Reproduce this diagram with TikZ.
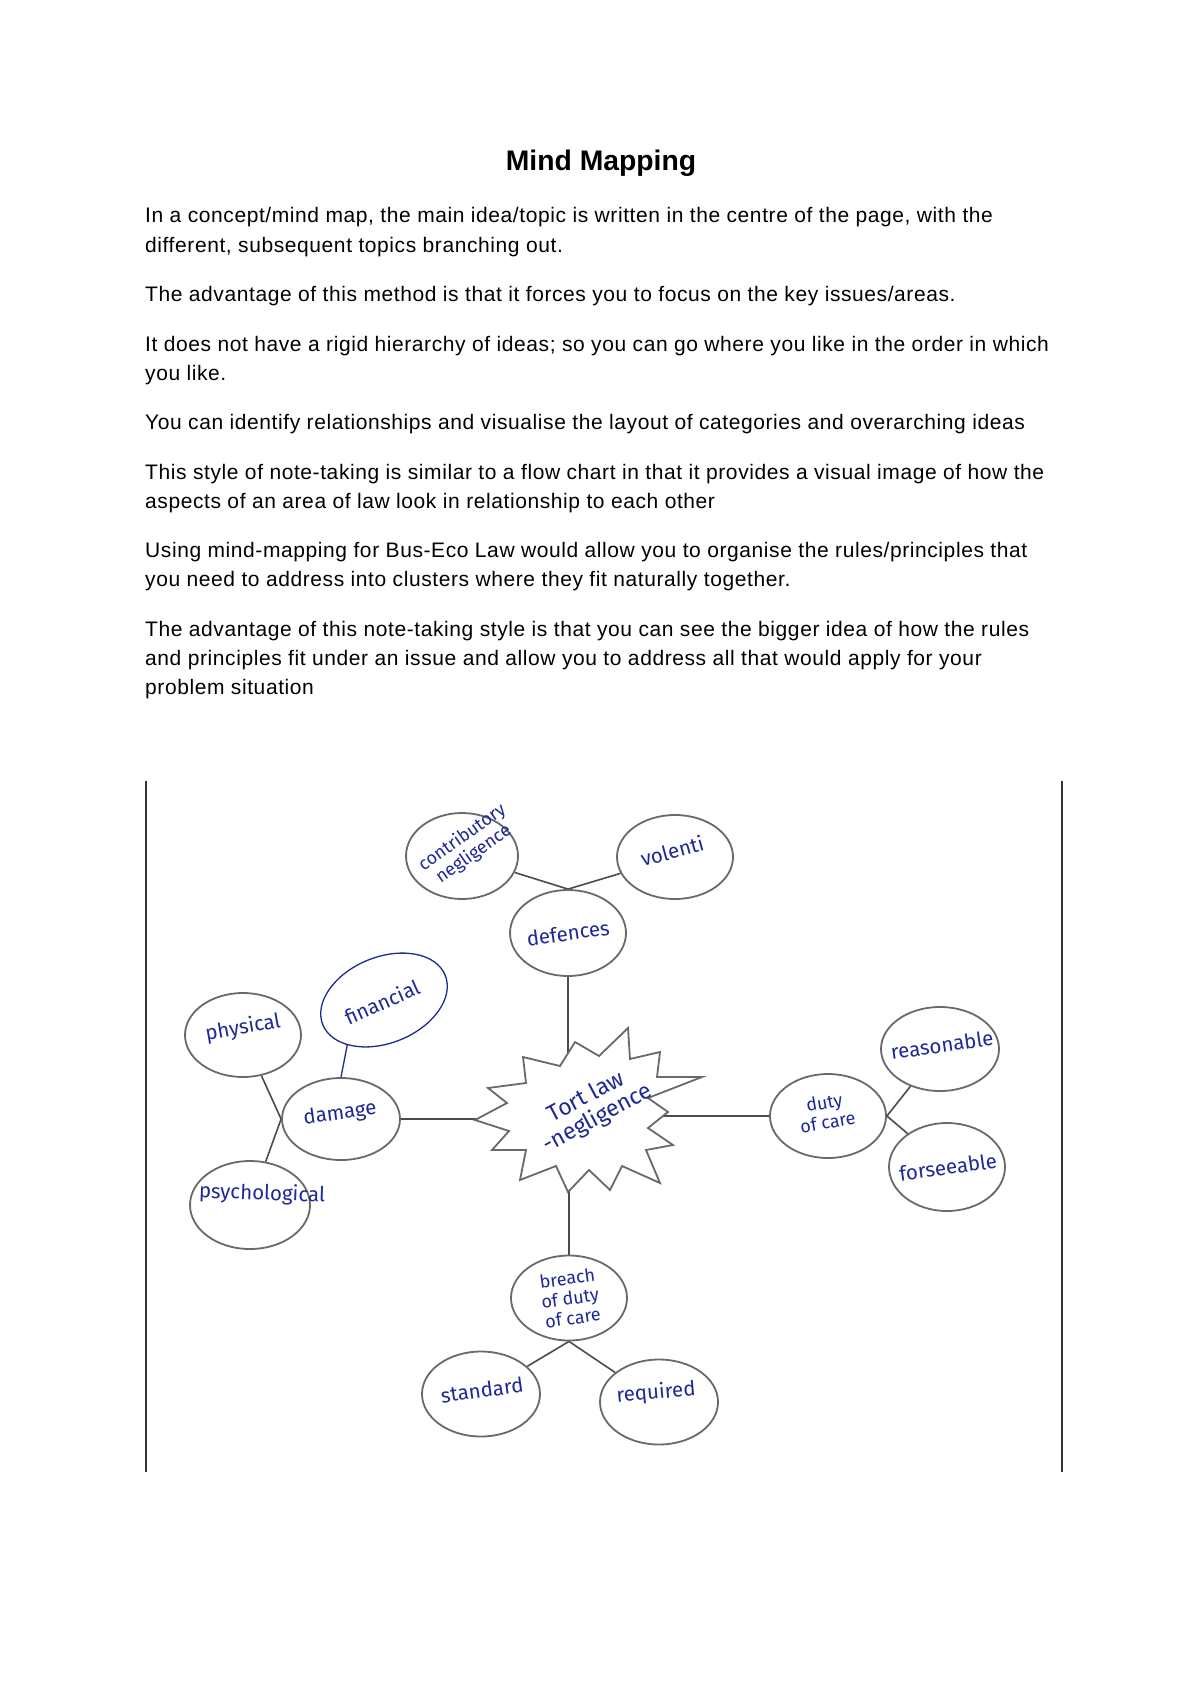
\documentclass[tikz,border=0pt]{standalone}
\usepackage{fontspec}
\setmainfont{Liberation Sans}
\newfontfamily\hand{Fira Sans}
\newfontfamily\bodyfont{Liberation Sans}[LetterSpace=2.8]
\usetikzlibrary{shapes.geometric,backgrounds,calc}
\definecolor{ink}{RGB}{30,40,150}
\definecolor{rim}{RGB}{105,105,105}
\definecolor{wire}{RGB}{75,75,75}
\begin{document}
\begin{tikzpicture}[x=1pt,y=-1pt,
  bubble/.style={ellipse, draw=rim, line width=1.8pt, fill=white, inner sep=0pt},
  hw/.style={font=\hand\fontsize{20.5}{21}\selectfont, text=ink, align=center, inner sep=0pt},
  hws/.style={font=\hand\fontsize{18}{20}\selectfont, text=ink, align=center, inner sep=0pt},
  link/.style={draw=wire, line width=1.6pt},
  para/.style={anchor=base west, inner sep=0pt, font=\bodyfont\fontsize{21}{24}\selectfont},
  frame/.style={draw=black!80, line width=1.7pt}]
\useasboundingbox (0,0) rectangle (1200,1698);

% title and text
\node[anchor=base, inner sep=0pt, font=\bfseries\fontsize{28.3}{30}\selectfont] (title) at (601,170) {Mind Mapping};
\node[para] (p1a) at (145,222) {In a concept/mind map, the main idea/topic is written in the centre of the page, with the};
\node[para] (p1b) at (145,252) {different, subsequent topics branching out.};
\node[para] (p2) at (145,301) {The advantage of this method is that it forces you to focus on the key issues/areas.};
\node[para] (p3a) at (145,351) {It does not have a rigid hierarchy of ideas; so you can go where you like in the order in which};
\node[para] (p3b) at (145,380) {you like.};
\node[para] (p4) at (145,429) {You can identify relationships and visualise the layout of categories and overarching ideas};
\node[para] (p5a) at (145,479) {This style of note-taking is similar to a flow chart in that it provides a visual image of how the};
\node[para] (p5b) at (145,508) {aspects of an area of law look in relationship to each other};
\node[para] (p6a) at (145,557) {Using mind-mapping for Bus-Eco Law would allow you to organise the rules/principles that};
\node[para] (p6b) at (145,586) {you need to address into clusters where they fit naturally together.};
\node[para] (p7a) at (145,636) {The advantage of this note-taking style is that you can see the bigger idea of how the rules};
\node[para] (p7b) at (145,665) {and principles fit under an issue and allow you to address all that would apply for your};
\node[para] (p7c) at (145,694) {problem situation};

% frame lines
\coordinate (fl1) at (146,781);
\coordinate (fl2) at (146,1472);
\coordinate (fr1) at (1062,781);
\coordinate (fr2) at (1062,1472);
\draw[frame] (fl1) -- (fl2);
\draw[frame] (fr1) -- (fr2);

% bubbles
\node[bubble, minimum width=112pt, minimum height=86pt] (contrib) at (462,856) {};
\node[bubble, minimum width=116pt, minimum height=84pt] (volenti) at (675,857) {};
\node[bubble, minimum width=116pt, minimum height=86pt] (defences) at (568,933) {};
\node[bubble, minimum width=116pt, minimum height=84pt] (physical) at (243,1035) {};
\node[bubble, minimum width=118pt, minimum height=82pt] (damage) at (341,1119) {};
\node[bubble, minimum width=120pt, minimum height=88pt] (psych) at (250,1205) {};
\node[bubble, minimum width=116pt, minimum height=84pt] (duty) at (828,1116) {};
\node[bubble, minimum width=118pt, minimum height=84pt] (reasonable) at (940,1049) {};
\node[bubble, minimum width=116pt, minimum height=88pt] (forseeable) at (947,1167) {};
\node[bubble, minimum width=116pt, minimum height=85pt] (breach) at (569,1298) {};
\node[bubble, minimum width=118pt, minimum height=85pt] (standard) at (481,1394) {};
\node[bubble, minimum width=118pt, minimum height=85pt] (required) at (659,1402) {};
\node[ellipse, draw=ink, line width=1.3pt, fill=white, inner sep=0pt, rotate=22,
      minimum width=132pt, minimum height=86pt] (financial) at (384,1000) {};

% star
\coordinate (star) at (590,1110);
\filldraw[fill=white, draw=rim, line width=1.8pt, line join=miter]
  (475,1120) -- (507,1103) -- (488,1088) -- (526,1083) -- (523,1057) -- (560,1066)
  -- (575,1042) -- (599,1056) -- (628,1028) -- (630,1059) -- (660,1052) -- (657,1077)
  -- (702,1077) -- (648,1098) -- (668,1112) -- (648,1128) -- (673,1145) -- (646,1150)
  -- (660,1183) -- (622,1166) -- (610,1190) -- (589,1170) -- (568,1192) -- (556,1166)
  -- (520,1180) -- (526,1150) -- (492,1150) -- (509,1131) -- cycle;

% connectors
\begin{pgfonlayer}{background}
\fill[white] (0,0) rectangle (1200,1698);
\draw[link] (contrib) -- (defences.north);
\draw[link] (volenti) -- (defences.north);
\draw[link] (defences.south) -- (defences.south |- star);
\draw[link] (physical) -- (damage.west);
\draw[link] (psych) -- (damage.west);
\draw[link] (damage.east) -- (damage.east -| star);
\draw[link] (duty.west) -- (duty.west -| star);
\draw[link] (reasonable) -- (duty.east);
\draw[link] (forseeable) -- (duty.east);
\draw[link] (breach.north) -- (breach.north |- star);
\draw[link] (standard) -- (breach.south);
\draw[link] (required) -- (breach.south);
\draw[draw=ink, line width=1.3pt] (damage.north) -- ($(financial.center)+(-28,0)$);
\end{pgfonlayer}

% handwritten labels
\node[hws, rotate=35] (t-contrib) at (468,846) {contributory\\negligence};
\node[hw, rotate=15] (t-volenti) at (672,851) {volenti};
\node[hw, rotate=8] (t-defences) at (568,933) {defences};
\node[hw, rotate=10] (t-physical) at (243,1028) {physical};
\node[hw, rotate=24] (t-financial) at (382,1002) {financial};
\node[hw, rotate=8] (t-damage) at (340,1114) {damage};
\node[hw, rotate=-2] (t-psych) at (262,1194) {psychological};
\node[hw, rotate=28, font=\hand\fontsize{23}{24}\selectfont] (t-star) at (592,1108) {Tort law\\-negligence};
\node[hws, rotate=10] (t-duty) at (826,1112) {duty\\of care};
\node[hw, rotate=8] (t-reasonable) at (942,1045) {reasonable};
\node[hw, rotate=8] (t-forseeable) at (948,1167) {forseeable};
\node[hws, rotate=8] (t-breach) at (570,1298) {breach\\of duty\\of care};
\node[hw, rotate=8] (t-standard) at (482,1390) {standard};
\node[hw, rotate=5] (t-required) at (656,1393) {required};
\end{tikzpicture}
\end{document}
